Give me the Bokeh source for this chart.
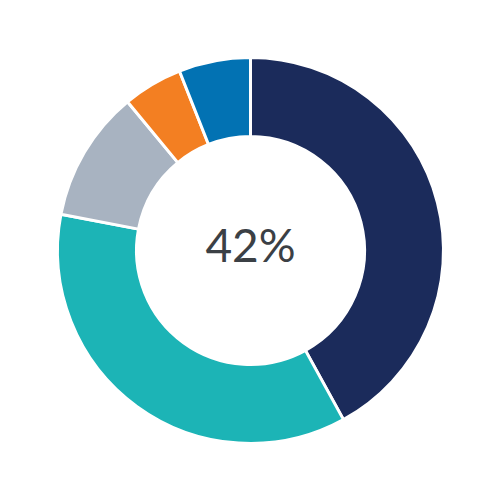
import math
from bokeh.plotting import figure
from bokeh.models import ColumnDataSource, Range1d
from bokeh.core.properties import value
from bokeh.embed import file_html
from bokeh.resources import INLINE

categories = ["A", "B", "C", "D", "E"]
shares = [42, 36, 11, 5, 6]
colors = ["#1b2b5b", "#1cb4b6", "#a8b3c1", "#f37f22", "#0272b3"]
center_label = "42%"

total = float(sum(shares))
starts, ends = [], []
acc = 0.0
for s in shares:
    starts.append(math.pi / 2 - 2 * math.pi * acc / total)
    acc += s
    ends.append(math.pi / 2 - 2 * math.pi * acc / total)

src = ColumnDataSource(dict(cat=categories, share=shares, color=colors,
                            start=starts, end=ends))

W = 492
p = figure(width=W, height=W, output_backend="svg", toolbar_location=None,
           x_range=Range1d(-250, 242), y_range=Range1d(-242, 250),
           min_border=0)
p.axis.visible = False
p.grid.visible = False
p.outline_line_color = None

p.annular_wedge(x=0, y=0, inner_radius=114, outer_radius=193,
                start_angle="start", end_angle="end", direction="clock",
                fill_color="color", line_color="white", line_width=3, source=src)

p.text(x=[0], y=[6], text=[center_label], text_align="center",
       text_baseline="middle", text_font=value("Lato"),
       text_font_size="46px", text_color="#3b4045")

open("out.html", "w").write(file_html(p, INLINE))
